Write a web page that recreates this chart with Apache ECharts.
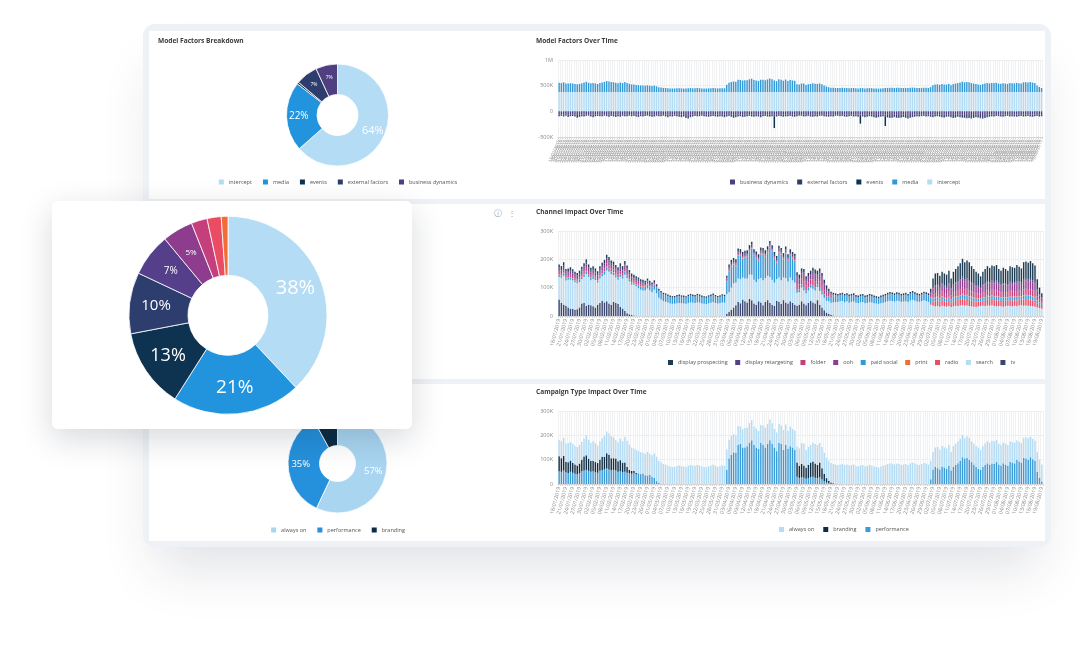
<!DOCTYPE html>
<html><head><meta charset="utf-8">
<script src="https://cdn.jsdelivr.net/npm/echarts/dist/echarts.min.js"></script>
<style>
html,body{margin:0;padding:0;}
body{width:1080px;height:648px;background:#fff;overflow:hidden;position:relative;font-family:'Open Sans',sans-serif;}
.frame{position:absolute;left:143px;top:24px;width:908px;height:523px;background:#eef1f5;border-radius:12px;box-shadow:0 34px 50px -12px rgba(30,40,70,0.13);}
.panel{position:absolute;background:#fff;}
.chart{position:absolute;left:0;top:0;width:100%;height:100%;}
#card{position:absolute;left:52px;top:201px;width:360px;height:228px;background:#fff;border-radius:6px;box-shadow:0 10px 32px rgba(20,30,50,0.17);z-index:10;}
.icons{position:absolute;left:494px;top:207px;font-size:8px;color:#9a9a9a;letter-spacing:6px;}
</style>
</head><body>
<div class="frame"></div>
<div class="panel" style="left:149px;top:31px;width:378px;height:168px;"><div id="pA" class="chart"></div></div>
<div class="panel" style="left:527px;top:31px;width:518px;height:168px;"><div id="pB" class="chart"></div></div>
<div class="panel" style="left:149px;top:204px;width:378px;height:175px;"></div>
<div class="icons">ⓘ⋮</div>
<div class="panel" style="left:527px;top:204px;width:518px;height:175px;"><div id="pD" class="chart"></div></div>
<div class="panel" style="left:149px;top:384px;width:378px;height:157px;"><div id="pE" class="chart"></div></div>
<div class="panel" style="left:527px;top:384px;width:518px;height:157px;"><div id="pF" class="chart"></div></div>
<div id="card"><div id="pG" class="chart"></div></div>
<script>
// ---------- categories ----------
const dates = [];
(function(){const d0=Date.UTC(2019,0,18);const p=n=>(n<10?'0':'')+n;
for(let i=0;i<214;i++){const d=new Date(d0+i*86400000);dates.push(p(d.getUTCDate())+'/'+p(d.getUTCMonth()+1)+'/'+d.getUTCFullYear());}})();

// ---------- Model factors over time (K) ----------
const intercept = [
375,375,375,375,375,375,375,375,375,375, 375,375,375,375,375,375,375,375,375,375,
375,375,375,375,375,375,375,375,375,375, 375,375,375,375,375,375,375,375,375,375,
375,375,375,375,375,375,375,375,375,375, 375,375,375,375,375,375,375,375,375,375,
375,375,375,375,375,375,375,375,375,375, 375,375,375,375,375,375,375,375,375,375,
375,375,375,375,375,375,375,375,375,375, 375,375,375,375,375,375,375,375,375,375,
375,375,375,375,375,375,375,375,375,375, 375,375,375,375,375,375,375,375,375,375,
375,375,375,375,375,375,375,375,375,375, 375,375,375,375,375,375,375,375,375,375,
375,375,375,375,375,375,375,375,375,375, 375,375,375,375,375,375,375,375,375,375,
375,375,375,375,375,375,375,375,375,375, 375,375,375,375,375,375,375,375,375,375,
375,375,375,375,375,375,375,375,375,375, 375,375,375,375,375,375,375,375,375,375,
375,375,375,375,375,375,375,375,375,375, 375,375,375,375];
const media = [
182,176,190,166,168,172,165,156,152,160,174,186,200,182,
170,176,168,158,176,188,198,216,208,196,192,180,172,186,176,194,178,162,150,146,140,
136,130,128,124,132,124,118,126,112,96,
88,82,80,76,72,70,71,74,76,73,72,70,75,78,76,74,78,76,72,70,69,73,76,79,74,71,73,77,75,
142,
182,198,205,200,238,236,226,230,232,250,262,236,228,218,242,240,232,246,265,250,226,212,248,240,222,245,218,236,226,220,
154,146,168,166,140,152,160,170,164,160,168,152,128,108,
96,86,82,80,78,80,82,78,80,76,78,80,74,72,76,78,72,74,78,76,72,70,68,72,75,78,82,85,83,80,84,82,78,80,82,78,85,88,84,80,78,82,86,84,80,
96,132,150,152,142,156,150,146,160,132,156,166,176,186,202,190,196,190,176,166,156,150,140,156,166,176,170,178,176,180,166,160,170,166,160,176,172,170,180,174,168,190,192,188,194,186,178,130,100,80];
const businessDynamics = [
-60,-58,-62,-55,-65,-60,-58,-62,-70,-66, -60,-64,-58,-55,-62,-66,-60,-58,-62,-60,
-56,-60,-64,-58,-62,-66,-60,-64,-58,-62, -60,-56,-62,-58,-60,-64,-60,-62,-58,-56,
-60,-64,-62,-58,-62,-60,-56,-62,-66,-60, -62,-58,-60,-64,-66,-62,-70,-74,-66,-62,
-58,-62,-60,-56,-60,-62,-64,-60,-58,-62, -64,-60,-62,-66,-60,-58,-64,-70,-66,-62,
-60,-66,-64,-60,-58,-62,-64,-60,-62,-66, -60,-58,-62,-64,-60,-66,-62,-58,-60,-64,
-62,-60,-58,-62,-64,-60,-56,-58,-62,-60, -58,-62,-64,-60,-62,-58,-56,-60,-62,-64,
-60,-62,-58,-56,-60,-58,-62,-64,-60,-58, -62,-60,-64,-60,-62,-66,-64,-60,-62,-66,
-70,-66,-64,-60,-62,-68,-72,-70,-66,-70, -72,-68,-66,-70,-74,-70,-66,-64,-60,-62,
-60,-58,-62,-60,-64,-66,-62,-60,-64,-66, -68,-64,-62,-66,-70,-68,-64,-66,-68,-70,
-72,-70,-74,-70,-66,-68,-72,-74,-70,-66, -64,-60,-62,-58,-60,-62,-64,-60,-58,-62,
-60,-62,-64,-60,-58,-62,-60,-58,-62,-64, -60,-58,-62,-60];
const externalFactors = [
-30,-28,-34,-26,-38,-30,-32,-36,-44,-38, -30,-32,-28,-26,-34,-40,-32,-30,-28,-30,
-26,-30,-34,-28,-32,-38,-30,-36,-28,-30, -32,-26,-30,-28,-34,-40,-30,-32,-28,-26,
-30,-36,-34,-28,-32,-30,-26,-32,-40,-30, -34,-28,-30,-36,-40,-32,-44,-48,-40,-34,
-28,-32,-30,-26,-30,-34,-36,-30,-28,-32, -36,-30,-32,-40,-34,-28,-36,-44,-40,-34,
-30,-38,-36,-30,-28,-34,-36,-30,-34,-40, -30,-28,-34,-36,-30,-40,-34,-28,-30,-36,
-32,-30,-28,-34,-36,-30,-26,-28,-34,-30, -28,-34,-36,-30,-34,-28,-26,-30,-34,-36,
-30,-34,-28,-26,-30,-28,-34,-36,-30,-28, -34,-30,-36,-30,-34,-40,-36,-30,-34,-40,
-46,-40,-36,-30,-34,-42,-48,-46,-40,-46, -48,-42,-40,-46,-50,-46,-40,-36,-30,-34,
-30,-28,-34,-30,-36,-40,-34,-30,-36,-40, -42,-36,-34,-40,-46,-42,-36,-40,-42,-46,
-48,-46,-50,-46,-40,-42,-48,-50,-46,-40, -36,-30,-34,-28,-30,-34,-36,-30,-28,-34,
-30,-34,-36,-30,-28,-34,-30,-28,-34,-36, -30,-28,-34,-32];
const events = [
-4,-3,-5,-4,-6,-4,-3,-5,-12,-6, -4,-5,-3,-4,-6,-10,-4,-3,-4,-5,
-3,-4,-6,-4,-5,-8,-4,-6,-3,-4, -5,-3,-4,-3,-5,-8,-4,-5,-3,-4,
-4,-6,-5,-3,-4,-4,-3,-5,-10,-4, -5,-3,-4,-6,-8,-5,-14,-20,-8,-5,
-3,-4,-4,-3,-4,-5,-6,-4,-3,-5, -6,-4,-5,-8,-5,-3,-6,-12,-8,-5,
-4,-8,-6,-4,-3,-5,-6,-4,-5,-8, -4,-3,-5,-6,-4,-220,-5,-3,-4,-6,
-5,-4,-3,-5,-6,-4,-3,-3,-5,-4, -3,-5,-6,-4,-5,-3,-3,-4,-5,-6,
-4,-5,-3,-3,-4,-3,-5,-6,-4,-3, -5,-4,-6,-150,-5,-8,-6,-4,-5,-8,
-10,-8,-6,-4,-190,-8,-12,-10,-8,-10, -12,-8,-6,-10,-14,-10,-8,-6,-4,-5,
-4,-3,-5,-4,-6,-8,-5,-4,-6,-8, -10,-6,-5,-8,-12,-10,-6,-8,-10,-12,
-14,-12,-16,-12,-8,-10,-14,-16,-12,-8, -6,-4,-5,-3,-4,-5,-6,-4,-3,-5,
-4,-5,-6,-4,-3,-5,-4,-3,-5,-6, -4,-3,-5,-4];

// ---------- Channel impact over time (K) ----------
const tv = [
58,46,40,36,30,26,25,22,24,30,44,46,36,40,38,34,30,40,46,54,48,52,44,40,50,46,42,32,26,18,10,6,4,2,1,
0,0,0,0,0,0,0,0,0,0, 0,0,0,0,0,0,0,0,0,0, 0,0,0,0,0,0,0,0,0,0, 0,0,0,0,0,0,0,0,0,
8,
14,22,30,38,50,45,58,52,48,60,56,44,40,52,48,38,50,56,46,40,36,54,50,42,56,48,44,52,46,40,
36,40,52,44,38,46,54,48,44,56,40,30,20,12,
7,4,2,1,
0,0,0,0,0,0,0,0,0,0, 0,0,0,0,0,0,0,0,0,0, 0,0,0,0,0,0,0,0,0,0, 0,0,0,0,0,0,0,0,0,0,
0,0,0,0,0,0,0,0,0,0, 0,0,0,0,0,0,0,0,0,0, 0,0,0,0,0,0,0,0,0,0, 0,0,0,0,0,0,0,0,0,0,
0,0,0,0,0,0,0,0,0,0, 0];
const search = [
80,89,102,89,98,102,100,97,92,90,86,92,112,98,88,97,97,78,86,86,98,109,112,108,94,90,86,106,106,128,124,116,107,108,104,
98,93,90,90,97,90,84,93,80,64,
58,53,50,48,44,43,43,45,46,45,44,43,46,48,47,46,48,47,44,43,42,45,47,49,46,44,45,48,47,
70,
70,78,85,80,82,85,78,80,84,86,90,84,80,78,86,88,84,86,92,88,82,76,86,84,80,86,78,84,80,78,
46,44,48,46,42,44,46,48,46,46,48,46,44,42,
45,43,46,48,
49,52,53,48,52,47,50,51,47,46,48,49,45,46,49,48,45,44,43,45,47,49,52,54,53,51,54,53,50,51,52,49,55,57,54,51,50,53,56,53,50,
40,36,
34,35,33,36,34,33,35,32,34,36,35,37,38,36,37,35,34,33,32,34,35,36,35,37,36,38,35,34,35,34,33,35,36,35,34,36,34,37,38,36,37,36,35,34,33,30,28,26];
const radio = [
0,0,0,0,0,0,0,0,0,0, 0,0,0,0,0,0,0,0,0,0, 0,0,0,0,0,0,0,0,0,0, 0,0,0,0,0,0,0,0,0,0,
0,0,0,0,0,0,0,0,0,0, 0,0,0,0,0,0,0,0,0,0, 0,0,0,0,0,0,0,0,0,0, 0,0,0,0,0,0,0,0,0,0,
0,0,0,0,0,0,0,0,0,0, 0,0,0,0,0,0,0,0,0,0, 0,0,0,0,0,0,0,0,0,0, 0,0,0,0,0,0,0,0,0,0,
0,0,0,0,0,0,0,0,0,0, 0,0,0,0,0,0,0,0,0,0, 0,0,0,0,0,0,0,0,0,0, 0,0,0,0,0,0,0,0,0,0,
0,0,0,0,
6,14,
18,19,17,20,18,17,19,16,18,20,21,22,24,22,23,22,20,19,18,17,16,18,19,21,20,22,21,22,20,19,20,19,18,21,20,20,21,20,19,22,23,22,23,22,21,15,11,9];
const paidSocial = [
8,7,9,8,7,8,7,6,6,7,8,9,10,8,8,9,8,7,8,9,10,11,10,9,9,8,8,9,8,9,8,7,7,6,6,
10,11,12,13,14,15,16,18,20,22,
24,23,24,22,22,21,22,23,24,22,22,21,23,24,23,22,24,23,22,21,21,22,23,24,22,21,22,23,22,
45,
74,74,66,58,82,82,66,74,76,80,92,84,84,64,84,90,74,80,103,98,84,58,88,90,62,87,72,76,76,78,
10,9,11,10,9,10,10,11,10,10,11,10,12,14,
18,20,21,22,
22,21,22,23,21,22,21,22,20,19,21,22,20,21,22,21,20,19,18,20,21,22,23,24,23,22,23,22,21,22,23,22,23,24,23,22,21,22,23,24,23,
18,12,
11,12,11,12,11,10,12,10,11,12,12,13,14,13,13,12,12,11,11,10,10,11,11,12,12,12,12,13,12,11,12,11,11,12,12,12,12,12,11,13,13,13,13,12,12,10,8,7];
const print = [
2,2,2,2,2,2,2,2,2,2, 2,2,2,2,2,2,2,2,2,2, 2,2,2,2,2,2,2,2,2,2, 2,2,2,2,2,
2,2,2,1,1,1,1,1,0,0,
0,0,0,0,0,0,0,0,0,0, 0,0,0,0,0,0,0,0,0,0, 0,0,0,0,0,0,0,0,0,0,
2,2,2,2,2,2,2,2,2,2, 2,2,2,2,2,2,2,2,2,2, 2,2,2,2,2,2,2,2,2,2,
1,1,1,1,1,1,1,1,1,1,1,1,1,1,
0,0,0,0,0,0,0,0,0,0, 0,0,0,0,0,0,0,0,0,0, 0,0,0,0,0,0,0,0,0,0, 0,0,0,0,0,0,0,0,0,0, 0,0,0,0,0,
1,2,
2,2,2,2,2,2,2,1,2,2,2,2,3,2,2,2,2,2,2,2,1,2,2,2,2,2,2,2,2,2,2,2,2,2,2,2,2,2,2,2,2,2,2,2,2,1,1,1];
const folder = [
8,7,9,7,7,8,7,6,6,7,8,9,10,8,8,8,7,7,8,9,10,11,10,9,9,8,8,9,8,9,8,7,7,6,6,
6,5,5,4,4,3,3,2,2,1,
0,0,0,0,0,0,0,0,0,0, 0,0,0,0,0,0,0,0,0,0, 0,0,0,0,0,0,0,0,0,
4,
3,3,3,3,3,3,3,3,3,3, 3,3,3,3,3,3,3,3,3,3, 3,3,3,3,3,3,3,3,3,3,
20,18,20,22,18,18,18,22,22,18,22,22,18,14,
8,5,3,1,
0,0,0,0,0,0,0,0,0,0, 0,0,0,0,0,0,0,0,0,0, 0,0,0,0,0,0,0,0,0,0, 0,0,0,0,0,0,0,0,0,0, 0,
6,14,
16,17,15,17,16,15,18,14,17,18,19,20,22,20,21,20,19,18,17,16,15,17,18,19,18,19,19,20,18,17,18,18,17,19,18,18,19,19,18,21,21,20,21,20,19,14,10,8];
const ooh = [
10,9,11,9,9,10,9,8,8,9,10,11,12,10,10,10,9,9,10,11,12,13,12,11,11,10,10,11,10,11,10,9,8,8,7,
7,6,6,5,5,4,4,3,2,1,
0,0,0,0,0,0,0,0,0,0, 0,0,0,0,0,0,0,0,0,0, 0,0,0,0,0,0,0,0,0,
5,
4,4,4,4,4,4,4,4,4,4, 4,4,4,4,4,4,4,4,4,4, 4,4,4,4,4,4,4,4,4,4,
23,16,18,25,14,15,13,22,23,11,28,25,15,7,
8,5,3,1,
0,0,0,0,0,0,0,0,0,0, 0,0,0,0,0,0,0,0,0,0, 0,0,0,0,0,0,0,0,0,0, 0,0,0,0,0,0,0,0,0,0, 0,
8,20,
22,23,21,24,22,21,25,20,24,26,28,30,32,30,31,30,28,26,24,23,21,24,25,27,26,27,27,28,25,24,26,25,24,27,26,26,28,27,25,30,30,30,31,29,28,20,15,12];
const displayRetargeting = [
6,6,6,6,6,6,6,6,6,6, 6,6,6,6,6,6,6,6,6,6, 6,6,6,6,6,6,6,6,6,6, 6,6,6,6,6,
5,5,5,4,4,4,3,3,2,2,
1,1,1,1,1,1,1,1,1,1, 1,1,1,1,1,1,1,1,1,1, 1,1,1,1,1,1,1,1,1,
3,
5,5,5,5,5,5,5,5,5,5, 5,5,5,5,5,5,5,5,5,5, 5,5,5,5,5,5,5,5,5,5,
6,6,6,6,6,6,6,6,6,6,6,6,6,6,
2,2,1,1,
1,1,1,1,1,1,1,1,1,1, 1,1,1,1,1,1,1,1,1,1, 1,1,1,1,1,1,1,1,1,1, 1,1,1,1,1,1,1,1,1,1, 1,
3,4,
5,5,4,5,5,5,5,4,5,5,6,6,6,6,6,6,5,5,5,5,4,5,5,5,5,6,5,6,5,5,5,5,5,5,5,5,6,5,5,6,6,6,6,6,6,4,3,2];
const displayProspecting = [
10,10,11,9,9,10,9,9,8,9,10,11,12,10,10,10,9,9,10,11,12,12,12,11,11,10,10,11,10,11,10,9,9,8,8,
8,8,8,7,7,7,7,6,6,6,
5,5,5,5,5,5,5,5,5,5, 5,5,5,5,5,5,5,5,5,5, 5,5,5,5,5,5,5,5,5,
7,
10,10,10,10,10,10,10,10,10,10, 10,10,10,10,10,10,10,10,10,10, 10,10,10,10,10,10,10,10,10,10,
12,12,12,12,12,12,12,12,12,12,12,12,12,12,
8,7,6,6,
6,6,6,6,6,6,6,6,6,6, 6,6,6,6,6,6,6,6,6,6, 6,6,6,6,6,6,6,6,6,6, 6,6,6,6,6,6,6,6,6,6, 6,
14,30,
42,39,39,40,42,43,44,35,45,47,53,56,63,61,63,63,56,52,47,43,38,43,51,53,51,52,55,55,49,48,54,51,47,55,55,51,58,52,50,60,60,59,63,61,57,36,24,15];

// ---------- Campaign type impact over time (K) ----------
const performance = [
52,50,55,48,45,50,46,42,40,44,52,55,58,54,50,52,48,46,54,58,60,64,60,56,58,55,50,52,48,50,46,44,42,45,40,
40,38,42,36,35,38,30,25,12,4,
0,0,0,0,0,0,0,0,0,0, 0,0,0,0,0,0,0,0,0,0, 0,0,0,0,0,0,0,0,0,
58,
105,120,130,128,160,165,150,150,155,170,180,160,150,145,170,160,150,165,180,165,150,135,170,165,140,160,145,155,150,140,
30,25,28,26,22,24,28,30,26,24,28,20,12,6,
3,1,0,0,
0,0,0,0,0,0,0,0,0,0, 0,0,0,0,0,0,0,0,0,0, 0,0,0,0,0,0,0,0,0,0, 0,0,0,0,0,0,0,0,0,0, 0,
20,60,
70,65,60,72,68,62,75,55,70,78,85,95,110,105,108,100,90,80,70,62,58,70,78,85,80,84,82,90,80,76,85,80,75,90,88,85,100,92,88,108,105,100,110,102,96,50,25,10];
const branding = [
62,56,60,42,44,46,40,38,36,40,48,58,60,50,45,44,42,40,46,54,52,62,60,50,48,50,44,46,40,38,24,14,12,8,5,
3,2,1,0,0,0,0,0,0,0,
0,0,0,0,0,0,0,0,0,0, 0,0,0,0,0,0,0,0,0,0, 0,0,0,0,0,0,0,0,0,0,
0,0,0,0,0,0,0,0,0,0, 0,0,0,0,0,0,0,0,0,0, 0,0,0,0,0,0,0,0,0,0,
58,50,55,50,45,55,60,62,58,54,60,45,30,18,
10,5,3,1,
0,0,0,0,0,0,0,0,0,0, 0,0,0,0,0,0,0,0,0,0, 0,0,0,0,0,0,0,0,0,0, 0,0,0,0,0,0,0,0,0,0,
0,0,0,0,0,0,0,0,0,0, 0,0,0,0,0,0,0,0,0,0, 0,0,0,0,0,0,0,0,0,0, 0,0,0,0,0,0,0,0,0,0,
0,0,0,0,0,0,0,0,0,0, 0];
const alwaysOn = [
68,70,75,76,79,76,79,76,76,76,74,73,82,78,75,80,78,72,76,76,86,90,88,90,86,75,78,88,88,106,108,104,96,93,95,
93,90,85,88,97,86,88,101,100,92,
88,82,80,76,72,70,71,74,76,73,72,70,75,78,76,74,78,76,72,70,69,73,76,79,74,71,73,77,75,
84,
77,78,75,72,78,71,76,80,77,80,82,76,78,73,72,80,82,81,85,85,76,77,78,75,82,85,73,81,76,80,
66,71,85,90,73,73,72,78,80,82,80,87,86,84,
83,80,79,79,
78,80,82,78,80,76,78,80,74,72,76,78,72,74,78,76,72,70,68,72,75,78,82,85,83,80,84,82,78,80,82,78,85,88,84,80,78,82,86,84,80,
76,72,80,87,82,84,82,84,85,77,86,88,91,91,92,85,88,90,86,86,86,88,82,86,88,91,90,94,94,90,86,84,85,86,85,86,84,85,80,82,80,82,87,88,84,84,82,80,75,70];

// ---------- Donuts (% share) ----------
const factorNames = ['intercept','media','events','external factors','business dynamics'];
const factorShare = [63.5, 22, 0.6, 7, 6.9];
const channelNames = ['search','paid social','display prospecting','tv','display retargeting','ooh','folder','radio','print'];
const channelShare = [38, 21, 13, 10, 7, 5, 2.6, 2.3, 1.1];
const campaignNames = ['always on','performance','branding'];
const campaignShare = [57, 35, 8];

// ---------- styling ----------
const C = {
  light:'#b4dcf4', blue:'#2294de', dark:'#0d3351', navy:'#2c3d6e', purple:'#563f8a',
  ooh:'#8d3c8e', folder:'#c53f7c', radio:'#ea4d63', print:'#f26c38', bd:'#4f3f80'
};
const FONT = "'Open Sans', sans-serif";
function fmtK(v){ if(v===0) return '0'; if(Math.abs(v)>=1000) return (v/1000)+'M'; return v+'K'; }
const TITLE_STYLE = {fontSize:6.6, fontWeight:'bold', color:'#3b3b3b', fontFamily:FONT};
const LEGEND_TEXT = {fontSize:5.5, color:'#555', fontFamily:FONT};

function barChart(id, cfg){
  const c = echarts.init(document.getElementById(id), null, {renderer:'canvas'});
  c.setOption({
    animation:false,
    textStyle:{fontFamily:FONT},
    title:{text:cfg.title, left:9, top:cfg.titleTop, padding:0, textStyle:TITLE_STYLE},
    legend:{data:cfg.legend, left:cfg.legendLeft, top:cfg.legendTop, padding:0, icon:'rect', itemWidth:5, itemHeight:5, itemGap:cfg.legendGap||9,
      selectedMode:false, textStyle:LEGEND_TEXT, itemStyle:{borderWidth:0}},
    grid:{left:31, right:2, top:cfg.gridTop, height:cfg.gridHeight},
    xAxis:{type:'category', data:dates,
      axisLine:{onZero:false, lineStyle:{color:'#d6d6d6'}},
      axisTick:{show:true, interval:0, length:2, lineStyle:{color:'#d6d6d6'}},
      axisLabel:{interval:cfg.labelInterval, rotate:cfg.rotate, fontSize:cfg.labelSize, color:'#8a8a8a', margin:3, fontFamily:FONT},
      splitLine:{show:true, interval:0, lineStyle:{color:'#f0f1f3', width:1}}},
    yAxis:{type:'value', min:cfg.min, max:cfg.max, interval:cfg.interval,
      axisLabel:{formatter:fmtK, fontSize:5.5, color:'#888', margin:5, fontFamily:FONT},
      splitLine:{lineStyle:{color:'#ececec'}}, axisLine:{show:false}, axisTick:{show:false}},
    series: cfg.series.map(s=>({name:s.name, type:'bar', stack:'total', data:s.data,
      itemStyle:{color:s.color}, barCategoryGap:'38%', emphasis:{disabled:true}}))
  });
}

function pieChart(id, cfg){
  const c = echarts.init(document.getElementById(id), null, {renderer:'canvas'});
  const opt = {
    animation:false,
    textStyle:{fontFamily:FONT},
    series:[{type:'pie', radius:cfg.radius, center:cfg.center, startAngle:90, clockwise:true,
      avoidLabelOverlap:false, emphasis:{disabled:true},
      label:{show:true, position:'inside', color:'#fff', fontFamily:FONT,
        formatter:p=>Math.round(p.percent)+'%'},
      labelLine:{show:false},
      itemStyle:{borderColor:'#fff', borderWidth:0.8},
      data: cfg.names.map((n,i)=>({name:n, value:cfg.values[i], itemStyle:{color:cfg.colors[i]},
        label:{show:cfg.sizes[i]>0, fontSize:cfg.sizes[i]||1}}))}]
  };
  if (cfg.title) opt.title = {text:cfg.title, left:9, top:cfg.titleTop, padding:0, textStyle:TITLE_STYLE};
  if (cfg.legendTop !== undefined) opt.legend = {data:cfg.names, left:'center', top:cfg.legendTop, padding:0, icon:'rect',
    itemWidth:5, itemHeight:5, itemGap:11, selectedMode:false, textStyle:LEGEND_TEXT, itemStyle:{borderWidth:0}};
  c.setOption(opt);
}

// Model Factors Breakdown
pieChart('pA', {title:'Model Factors Breakdown', titleTop:7, names:factorNames, values:factorShare,
  colors:[C.light, C.blue, C.dark, C.navy, C.bd], sizes:[11,10,0,5,5],
  radius:[20.5,51], center:[188.5,84], legendTop:148});

// Model Factors Over Time
barChart('pB', {title:'Model Factors Over Time', titleTop:7, gridTop:29, gridHeight:77,
  min:-500, max:1000, interval:500, labelInterval:0, rotate:68, labelSize:4.5,
  legend:['business dynamics','external factors','events','media','intercept'], legendLeft:203, legendTop:148,
  series:[
    {name:'intercept', data:intercept, color:C.light},
    {name:'media', data:media, color:'#3299d8'},
    {name:'business dynamics', data:businessDynamics, color:C.bd},
    {name:'external factors', data:externalFactors, color:C.navy},
    {name:'events', data:events, color:C.dark}
  ]});

// Channel Impact Over Time
barChart('pD', {title:'Channel Impact Over Time', titleTop:5, gridTop:27, gridHeight:85,
  min:0, max:300, interval:100, labelInterval:2, rotate:75, labelSize:5.3,
  legend:['display prospecting','display retargeting','folder','ooh','paid social','print','radio','search','tv'], legendLeft:141, legendTop:155.5, legendGap:7.5,
  series:[
    {name:'tv', data:tv, color:'#39466f'},
    {name:'search', data:search, color:C.light},
    {name:'radio', data:radio, color:C.radio},
    {name:'paid social', data:paidSocial, color:'#3499d9'},
    {name:'print', data:print, color:C.print},
    {name:'folder', data:folder, color:C.folder},
    {name:'ooh', data:ooh, color:C.ooh},
    {name:'display retargeting', data:displayRetargeting, color:C.purple},
    {name:'display prospecting', data:displayProspecting, color:'#1d3b52'}
  ]});

// Campaign Type Impact Over Time
barChart('pF', {title:'Campaign Type Impact Over Time', titleTop:5, gridTop:27, gridHeight:73,
  min:0, max:300, interval:100, labelInterval:2, rotate:75, labelSize:5.3,
  legend:['always on','branding','performance'], legendLeft:252, legendTop:142.5,
  series:[
    {name:'performance', data:performance, color:'#3a9bd9'},
    {name:'branding', data:branding, color:'#102c42'},
    {name:'always on', data:alwaysOn, color:C.light}
  ]});

// Campaign type donut (partly under the card)
pieChart('pE', {names:campaignNames, values:campaignShare, colors:['#a9d5f1','#2590dc','#0c2b44'], sizes:[9.5,9.5,0],
  radius:[18,49.5], center:[188.5,79.5], legendTop:143});

// Floating card: channel share donut
pieChart('pG', {names:channelNames, values:channelShare,
  colors:[C.light, C.blue, C.dark, C.navy, C.purple, C.ooh, C.folder, C.radio, C.print],
  sizes:[20,19,18,15,10,8,0,0,0], radius:[40,99], center:[176,114.3]});
</script>
</body></html>
